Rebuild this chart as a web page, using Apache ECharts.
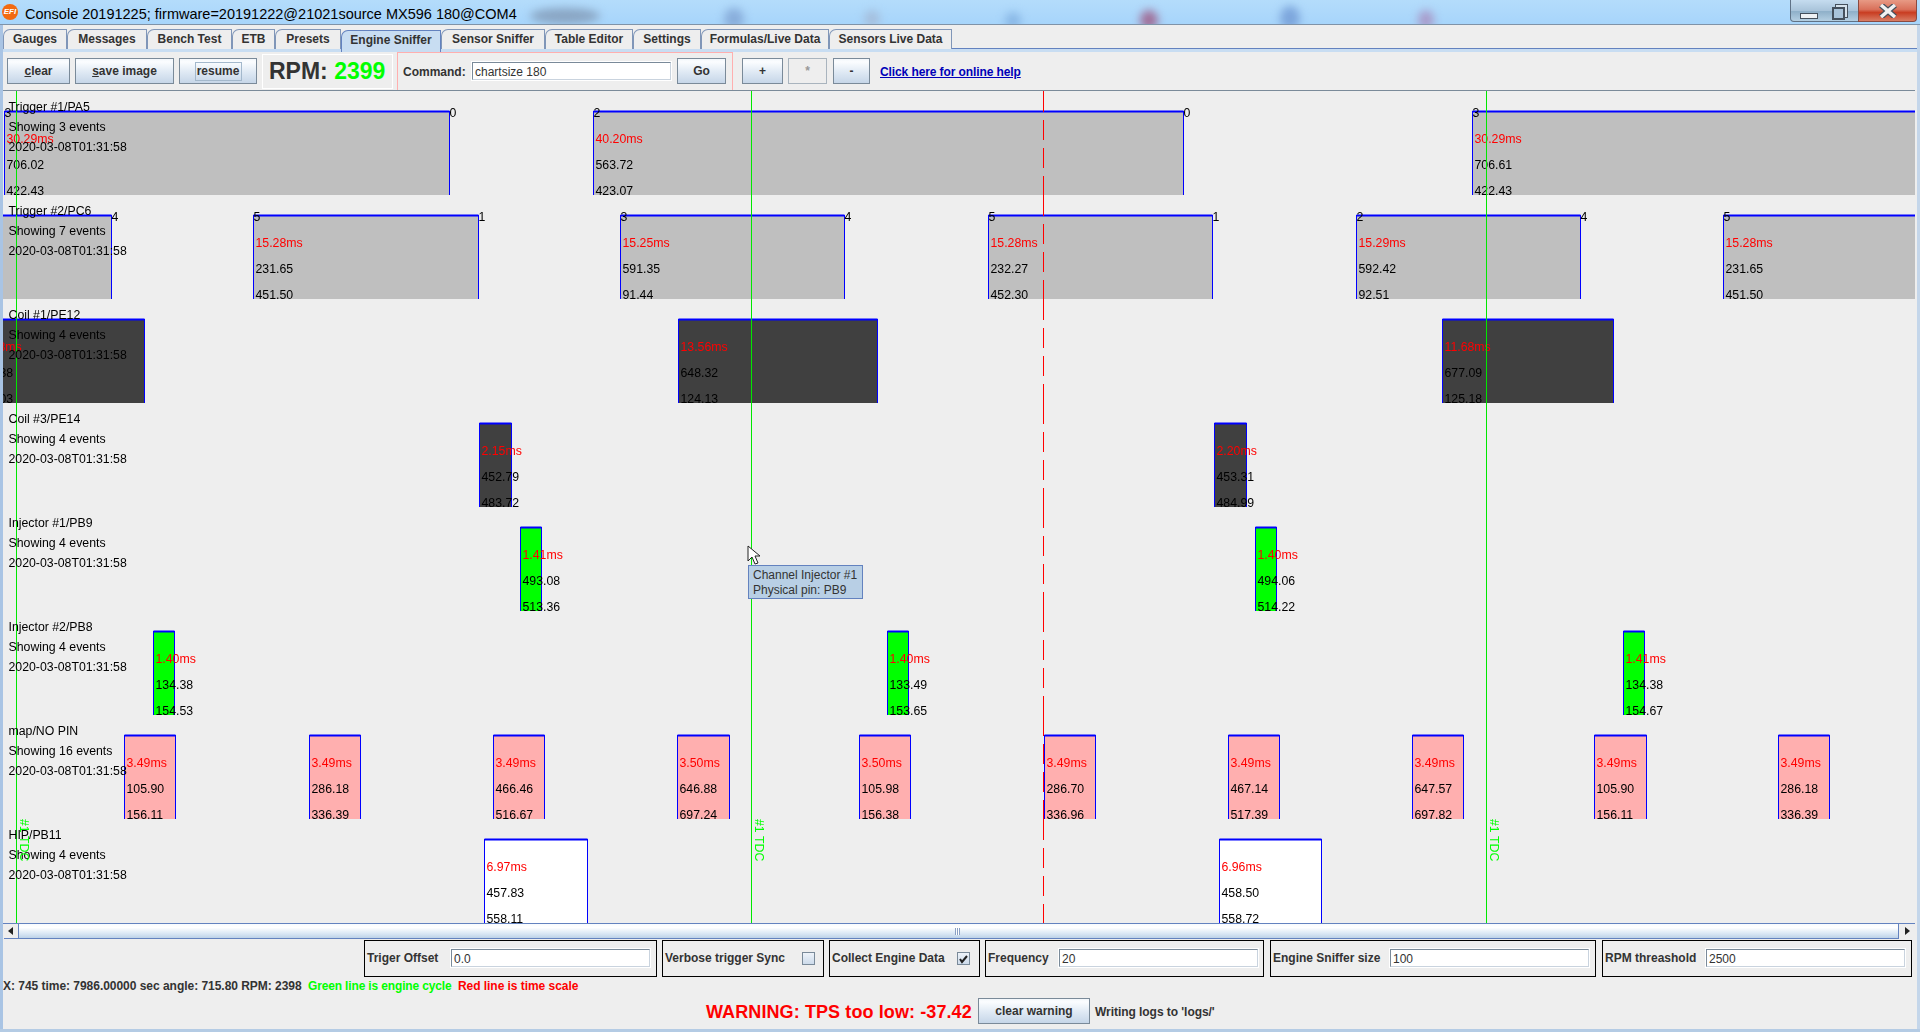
<!DOCTYPE html>
<html>
<head>
<meta charset="utf-8">
<title>Engine Sniffer</title>
<script src="https://cdn.jsdelivr.net/npm/echarts@6/dist/echarts.min.js"></script>
<style>
html,body{margin:0;padding:0;width:1920px;height:1032px;overflow:hidden;background:#eeeeee;font-family:"Liberation Sans",Arial,sans-serif;font-size:12px;color:#333}
#app div,#app span.a,#app a{position:absolute;white-space:nowrap}
.btn{box-sizing:border-box;border:1px solid #7a8a99;background:linear-gradient(#f3f7fb 0%,#fbfdff 12%,#dfe9f4 55%,#c6d6e8 100%);font-weight:bold;text-align:center;line-height:24px}
.input{box-sizing:border-box;background:#fff;border:1px solid #7a8a99;border-right-color:#c9d3de;border-bottom-color:#c9d3de;box-shadow:0 0 0 1px #fff;padding-left:2px;line-height:18px;color:#333}
.frame{box-sizing:border-box;border:1px solid #000;height:37px;top:940px;font-weight:bold}
.lbl{font-weight:bold}
.tab{box-sizing:border-box;top:29px;height:20px;border:1px solid #8096b8;border-bottom:none;border-top-left-radius:7px;text-align:center;line-height:19px;font-weight:bold;background:#eeeeee}
.tab.sel{background:#c8ddf2;top:30px;height:22px;border-color:#6382bf;border-bottom:none}
.check{box-sizing:border-box;width:13px;height:13px;top:952px;border:1px solid #7a8a99;background:linear-gradient(#eef3f9,#cddbeb)}
.blob{border-radius:50%;filter:blur(4px)}
</style>
</head>
<body>
<div id="app">
  <!-- window title bar -->
  <div style="left:0;top:0;width:1920px;height:25px;background:linear-gradient(#b4dcfb,#a7d5fb);border-bottom:1px solid #7f93a8;box-sizing:border-box;overflow:hidden">
    <div class="blob" style="left:1005px;top:12px;width:16px;height:18px;background:#8ab8e6"></div>
    <div class="blob" style="left:1140px;top:10px;width:18px;height:20px;background:#a0709a"></div>
    <div class="blob" style="left:1280px;top:6px;width:20px;height:24px;background:#7da6dc"></div>
    <div class="blob" style="left:1418px;top:10px;width:16px;height:20px;background:#a89ccb"></div>
    <div class="blob" style="left:724px;top:8px;width:20px;height:22px;background:#89aedb"></div>
    <div class="blob" style="left:864px;top:10px;width:16px;height:18px;background:#a5bfdd"></div>
    <div class="blob" style="left:530px;top:8px;width:70px;height:16px;background:#8aa6c4"></div>
  </div>
  <div style="left:2px;top:4px;width:16px;height:16px;border-radius:50%;background:#f26a12;color:#fff;font-size:8px;font-weight:bold;font-style:italic;text-align:center;line-height:16px">EFI</div>
  <div style="left:25px;top:5px;font-size:14.5px;line-height:18px;color:#000">Console 20191225; firmware=20191222@21021source MX596 180@COM4</div>
  <!-- window buttons -->
  <div style="left:1790px;top:0;width:36px;height:22px;box-sizing:border-box;border:1px solid #5f7286;border-top:none;border-bottom-left-radius:4px;background:linear-gradient(#c5dcef 0,#a9c4da 50%,#8fb0c9 55%,#b4cfe2 100%)"></div>
  <div style="left:1825px;top:0;width:33px;height:22px;box-sizing:border-box;border-bottom:1px solid #5f7286;background:linear-gradient(#c5dcef 0,#a9c4da 50%,#8fb0c9 55%,#b4cfe2 100%)"></div>
  <div style="left:1858px;top:0;width:59px;height:22px;box-sizing:border-box;border:1px solid #8a4a40;border-top:none;border-bottom-right-radius:4px;background:linear-gradient(#e79a85 0,#d9705a 45%,#c93d22 60%,#d87c64 100%)"></div>
  <div style="left:1800px;top:13px;width:16px;height:4px;background:#eef2f5;border:1px solid #44505c"></div>
  <div style="left:1835px;top:4px;width:11px;height:12px;border:1px solid #44505c;background:#d5e2ec"></div>
  <div style="left:1832px;top:7px;width:9px;height:9px;border:2px solid #44505c;background:#a9c4da"></div>
  <svg style="position:absolute;left:1878px;top:4px" width="20" height="14"><path d="M3 1 L17 13 M17 1 L3 13" stroke="#44505c" stroke-width="6"/><path d="M3 1 L17 13 M17 1 L3 13" stroke="#f1f1f1" stroke-width="3.5"/></svg>

  <!-- tab strip -->
  <div style="left:3px;top:48px;width:1914px;height:1px;background:#6382bf"></div>
  <div style="left:3px;top:49px;width:1914px;height:3px;background:#c8ddf2"></div>
  <div id="tabs"></div>

  <!-- toolbar -->
  <div class="btn" style="left:7px;top:58px;width:63px;height:26px"><u>c</u>lear</div>
  <div class="btn" style="left:75px;top:58px;width:99px;height:26px"><u>s</u>ave image</div>
  <div class="btn" style="left:179px;top:58px;width:78px;height:26px">resume</div>
  <div style="left:195px;top:62px;width:45px;height:17px;border:1px solid #a3b8cc"></div>
  <div style="left:262px;top:54px;width:129px;height:33px;border:1px solid #fff"></div>
  <div style="left:269px;top:57px;font-size:23px;font-weight:bold;line-height:28px;color:#333">RPM: <span style="color:#00ff00">2399</span></div>
  <div style="left:397px;top:52px;width:334px;height:37px;border:1px solid #ffafaf"></div>
  <div class="lbl" style="left:403px;top:65px;line-height:14px">Command:</div>
  <div class="input" style="left:472px;top:62px;width:199px;height:18px">chartsize 180</div>
  <div class="btn" style="left:677px;top:58px;width:49px;height:26px">Go</div>
  <div class="btn" style="left:742px;top:58px;width:41px;height:26px">+</div>
  <div class="btn" style="left:788px;top:58px;width:39px;height:26px;background:#eeeeee;border-color:#a9b4be;color:#999">*</div>
  <div class="btn" style="left:833px;top:58px;width:37px;height:26px">-</div>
  <div class="lbl" style="left:880px;top:65px;line-height:14px;color:#0000b8;text-decoration:underline;letter-spacing:-0.1px">Click here for online help</div>
  <div style="left:3px;top:90px;width:1912px;height:1px;background:#7a8a99"></div>

  <!-- chart goes here -->
  <div id="main" style="left:3px;top:91px;width:1912px;height:832px"></div>

  <!-- mouse pointer and hover tip -->
  <svg style="position:absolute;left:747px;top:545px" width="16" height="20"><path d="M1 1 L1 16 L5 12 L8 19 L11 18 L8 11 L13 11 Z" fill="#fff" stroke="#222" stroke-width="1"/></svg>
  <div style="left:748px;top:565px;width:113px;height:32px;background:#b8cfe5;border:1px solid #6382bf;padding:0;color:#333">
    <div style="left:4px;top:2px;line-height:14px">Channel Injector #1</div>
    <div style="left:4px;top:17px;line-height:14px">Physical pin: PB9</div>
  </div>

  <!-- horizontal scroll bar -->
  <div style="left:3px;top:923px;width:1912px;height:1px;background:#6382bf"></div>
  <div style="left:4px;top:924px;width:14px;height:14px;background:#eeeeee;border-bottom:1px solid #6382bf"></div>
  <div style="left:8px;top:927px;width:0;height:0;border:4px solid transparent;border-right:5px solid #222;border-left:none"></div>
  <div style="left:18px;top:924px;width:1879px;height:14px;background:linear-gradient(#f8fbfe 0,#ffffff 25%,#d8e6f4 70%,#bdd2e8 100%);border-bottom:1px solid #6382bf;border-left:1px solid #6382bf;border-right:1px solid #6382bf"></div>
  <div style="left:955px;top:928px;width:5px;height:7px;background:repeating-linear-gradient(90deg,#8aa0c4 0,#8aa0c4 1px,#fff 1px,#fff 2px)"></div>
  <div style="left:1905px;top:927px;width:0;height:0;border:4px solid transparent;border-left:5px solid #222;border-right:none"></div>

  <!-- bottom settings row -->
  <div class="frame" style="left:364px;width:293px"></div>
  <div class="lbl" style="left:367px;top:951px;line-height:14px">Triger Offset</div>
  <div class="input" style="left:451px;top:949px;width:199px;height:18px">0.0</div>
  <div class="frame" style="left:662px;width:162px"></div>
  <div class="lbl" style="left:665px;top:951px;line-height:14px">Verbose trigger Sync</div>
  <div class="check" style="left:802px"></div>
  <div class="frame" style="left:829px;width:151px"></div>
  <div class="lbl" style="left:832px;top:951px;line-height:14px">Collect Engine Data</div>
  <div class="check" style="left:957px"></div>
  <svg style="position:absolute;left:957px;top:952px" width="13" height="13"><path d="M3 7 L5 10 L10 4" fill="none" stroke="#222" stroke-width="2"/></svg>
  <div class="frame" style="left:985px;width:279px"></div>
  <div class="lbl" style="left:988px;top:951px;line-height:14px">Frequency</div>
  <div class="input" style="left:1059px;top:949px;width:199px;height:18px">20</div>
  <div class="frame" style="left:1270px;width:326px"></div>
  <div class="lbl" style="left:1273px;top:951px;line-height:14px">Engine Sniffer size</div>
  <div class="input" style="left:1390px;top:949px;width:199px;height:18px">100</div>
  <div class="frame" style="left:1602px;width:310px"></div>
  <div class="lbl" style="left:1605px;top:951px;line-height:14px">RPM threashold</div>
  <div class="input" style="left:1706px;top:949px;width:199px;height:18px">2500</div>

  <!-- status lines -->
  <div class="lbl" style="left:3px;top:979px;line-height:14px;letter-spacing:-0.03px">X: 745 time: 7986.00000 sec angle: 715.80 RPM: 2398</div>
  <div class="lbl" style="left:308px;top:979px;line-height:14px;color:#00ff00;letter-spacing:-0.15px">Green line is engine cycle</div>
  <div class="lbl" style="left:458px;top:979px;line-height:14px;color:#ff0000;letter-spacing:-0.05px">Red line is time scale</div>
  <div style="left:706px;top:1001px;font-size:18px;font-weight:bold;line-height:22px;color:#ff0000;letter-spacing:0.1px">WARNING: TPS too low: -37.42</div>
  <div class="btn" style="left:978px;top:998px;width:112px;height:26px">clear warning</div>
  <div class="lbl" style="left:1095px;top:1005px;line-height:14px;letter-spacing:-0.05px">Writing logs to 'logs/'</div>

  <!-- window frame -->
  <div style="left:0;top:25px;width:3px;height:1007px;background:#a9c4e4"></div>
  <div style="left:1917px;top:25px;width:3px;height:1007px;background:#c4d6ea"></div>
  <div style="left:0;top:1029px;width:1920px;height:3px;background:#b4cbe4"></div>
</div>

<script>
// tab strip
var tabNames=['Gauges','Messages','Bench Test','ETB','Presets','Engine Sniffer','Sensor Sniffer','Table Editor','Settings','Formulas/Live Data','Sensors Live Data'];
var tabEdges=[3,67,147,232,275,341,441,545,633,701,829,952];
var selectedTab=5;

// channels, one row each
var channelNames=['Trigger #1/PA5','Trigger #2/PC6','Coil #1/PE12','Coil #3/PE14','Injector #1/PB9','Injector #2/PB8','map/NO PIN','HIP/PB11'];
var eventCounts=[3,7,4,4,4,4,16,4];
var captureTime='2020-03-08T01:31:58';

// each event: start ms, width ms, first angle, second angle, label at rising edge, label at falling edge
var trigger1=[[0.06,30.29,706.02,422.43,'3','0'],[40.17,40.20,563.72,423.07,'2','0'],[100.09,30.29,706.61,422.43,'3','0']];
var trigger2=[[-7.89,15.28,592.42,92.51,'2','4'],[17.06,15.28,231.65,451.50,'5','1'],[42.03,15.25,591.35,91.44,'3','4'],[67.10,15.28,232.27,452.30,'5','1'],[92.17,15.29,592.42,92.51,'2','4'],[117.18,15.28,231.65,451.50,'5','1']];
var coil1=[[-2.05,11.68,677.38,125.03,'',''],[45.99,13.56,648.32,124.13,'',''],[98.02,11.68,677.09,125.18,'','']];
var coil3=[[32.43,2.15,452.79,483.72,'',''],[82.49,2.20,453.31,484.99,'','']];
var injector1=[[35.22,1.41,493.08,513.36,'',''],[85.29,1.40,494.06,514.22,'','']];
var injector2=[[10.22,1.40,134.38,154.53,'',''],[60.22,1.40,133.49,153.65,'',''],[110.35,1.41,134.38,154.67,'','']];
var mapEvents=[[8.26,3.49,105.90,156.11,'',''],[20.86,3.49,286.18,336.39,'',''],[33.38,3.49,466.46,516.67,'',''],[45.93,3.50,646.88,697.24,'',''],[58.31,3.50,105.98,156.38,'',''],[70.91,3.49,286.70,336.96,'',''],[83.46,3.49,467.14,517.39,'',''],[95.98,3.49,647.57,697.82,'',''],[108.41,3.49,105.90,156.11,'',''],[120.91,3.49,286.18,336.39,'','']];
var hip=[[32.79,6.97,457.83,558.11,'',''],[82.84,6.96,458.50,558.72,'','']];
var channelEvents=[trigger1,trigger2,coil1,coil3,injector1,injector2,mapEvents,hip];

// markers on the time scale
var tdcMarks=[0.89,50.98,101.03];
var timeScaleMark=70.87;
var axisEnd=130.25;

var channelFills=['#bfbfbf','#bfbfbf','#404040','#404040','#00ff00','#00ff00','#ffafaf','#ffffff'];
var labelFont='12.3px "Liberation Sans"';

tabNames.forEach(function(name,i){
  var d=document.createElement('div');
  d.className=i===selectedTab?'tab sel':'tab';
  d.style.left=tabEdges[i]+'px';
  d.style.width=(tabEdges[i+1]-tabEdges[i])+'px';
  d.textContent=name;
  document.getElementById('tabs').appendChild(d);
});

var rows=[];
channelEvents.forEach(function(list,row){
  list.forEach(function(ev){ rows.push({row:row,ev:ev}); });
});

function txt(x,y,text,color,rot){
  var s={type:'text',x:x,y:y,style:{text:text,fill:color||'#000',font:labelFont,textAlign:'left',textVerticalAlign:'middle'}};
  if(rot) s.rotation=rot;
  return s;
}

function renderEvent(params,api){
  var item=rows[params.dataIndex], ev=item.ev;
  var p0=api.coord([ev[0],item.row]);
  var p1=api.coord([ev[0]+ev[1],item.row]);
  var band=api.size([0,1])[1];
  var top=p0[1]-band/2+20, bottom=p0[1]+band/2;
  var x0=Math.round(p0[0])+0.5, x1=Math.round(p1[0])+0.5;
  var blue={stroke:'#0000ff',lineWidth:1};
  return {type:'group',children:[
    {type:'rect',shape:{x:x0,y:top,width:x1-x0,height:bottom-top},style:{fill:channelFills[item.row]}},
    {type:'line',shape:{x1:x0,y1:top+0.5,x2:x1,y2:top+0.5},style:{stroke:'#0000ff',lineWidth:2}},
    {type:'line',shape:{x1:x0,y1:top,x2:x0,y2:bottom},style:blue},
    {type:'line',shape:{x1:x1,y1:top,x2:x1,y2:bottom},style:blue},
    txt(x0,top+3,ev[4]),
    txt(x1,top+3,ev[5]),
    txt(x0+2,top+28.9,ev[1].toFixed(2)+'ms','#ff0000'),
    txt(x0+2,top+54.9,ev[2].toFixed(2)),
    txt(x0+2,top+80.9,ev[3].toFixed(2))
  ]};
}

function renderChannelLabel(params,api){
  var i=params.dataIndex;
  var p=api.coord([0,i]);
  var top=p[1]-api.size([0,1])[1]/2;
  return {type:'group',children:[
    txt(p[0]+5.5,top+16.9,channelNames[i]),
    txt(p[0]+5.5,top+36.9,'Showing '+eventCounts[i]+' events'),
    txt(p[0]+5.5,top+56.9,captureTime)
  ]};
}

function renderTdc(params,api){
  var p=api.coord([api.value(0),6]);
  var band=api.size([0,1])[1];
  return txt(p[0]+7,p[1]+band/2,'#1 TDC','#00ff00',-Math.PI/2);
}

// full height vertical lines; the red one repeats its dash every row
function renderMark(params,api){
  var x=Math.round(api.coord([api.value(0),0])[0])+0.5;
  var rect=params.coordSys;
  var isRed=api.value(1)===1;
  return {type:'line',shape:{x1:x,y1:rect.y,x2:x,y2:rect.y+rect.height},
    style:isRed?{stroke:'#ff0000',lineWidth:1,lineDash:[40,8,20,8,20,8],lineDashOffset:19}:{stroke:'#00e800',lineWidth:1}};
}

var markData=tdcMarks.map(function(m){ return [m,0]; });
markData.push([timeScaleMark,1]);

var myChart=echarts.init(document.getElementById('main'));
var option={
  animation:false,
  backgroundColor:'#eeeeee',
  tooltip:{show:false},
  grid:{left:0,right:0,top:0,bottom:0},
  xAxis:{type:'value',min:0,max:axisEnd,show:false},
  yAxis:{type:'category',inverse:true,data:channelNames,show:false},
  series:[
    {
      type:'custom',
      name:'events',
      clip:true,
      silent:true,
      renderItem:renderEvent,
      encode:{x:[0,1],y:2},
      data:rows.map(function(r){ return [r.ev[0],r.ev[0]+r.ev[1],r.row]; })
    },
    {
      type:'custom',
      name:'marks',
      silent:true,
      renderItem:renderMark,
      encode:{x:0},
      data:markData
    },
    {
      type:'custom',
      name:'channels',
      silent:true,
      renderItem:renderChannelLabel,
      data:channelNames.map(function(n,i){ return [0,i]; }),
      encode:{x:0,y:1}
    },
    {
      type:'custom',
      name:'tdc',
      silent:true,
      renderItem:renderTdc,
      data:tdcMarks.map(function(m){ return [m,6]; }),
      encode:{x:0,y:1}
    }
  ]
};
myChart.setOption(option);
</script>
</body>
</html>
